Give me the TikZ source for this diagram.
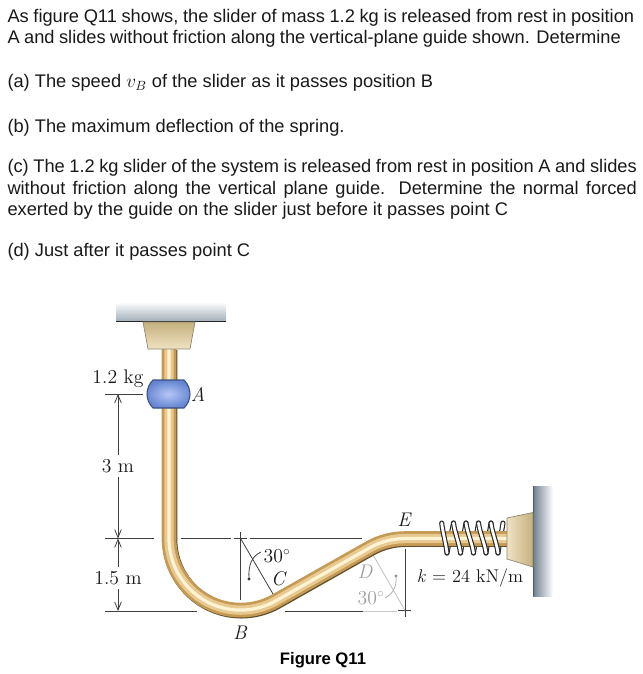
\documentclass[tikz,border=0pt]{standalone}
\usepackage{fontspec}
\newfontfamily\arial{Liberation Sans}
\usetikzlibrary{arrows.meta}
\definecolor{dimc}{HTML}{3F3F3F}
\definecolor{rodA}{HTML}{5F4E2E}
\definecolor{rodB}{HTML}{C49A55}
\definecolor{rodC}{HTML}{E8C98F}
\definecolor{rodD}{HTML}{FFF3D6}
\definecolor{steel}{HTML}{A3B0BA}
\definecolor{wallc}{HTML}{6F7F8F}
\definecolor{mountA}{HTML}{F0E3C2}
\definecolor{mountB}{HTML}{C4B07E}
\definecolor{slideA}{HTML}{B4C6F4}
\definecolor{slideB}{HTML}{6585D2}
\newcommand{\ruledtext}[2]{\hbox to #1pt{#2}}
\tikzset{
 every node/.style={inner sep=0pt,outer sep=0pt},
 body/.style={anchor=base west,text=black!90,font=\arial\fontsize{13.7}{16}\selectfont},
 lab/.style={font=\fontsize{14.8}{17}\selectfont,text=black!90},
 fade/.style={font=\fontsize{14.8}{17}\selectfont,text=black!38},
 dim/.style={draw=dimc,line width=0.6pt},
 dimarrow/.style={dim,-{Straight Barb[length=6pt,width=5pt]}},
 strandout/.style={draw=black!85,line width=3.8pt,line cap=round},
 strandin/.style={draw=white,line width=2.1pt,line cap=round},
}
\begin{document}
\begin{tikzpicture}[x=0.75pt,y=-0.75pt]
\useasboundingbox (0,0) rectangle (642,674);
% text
\node[body] (t1) at (7.5,22.5) {\ruledtext{470}{As figure Q11 shows, the slider of mass 1.2 kg is released from rest in position}};
\node[body] (t2) at (7.5,43.5) {\ruledtext{460}{A and slides without friction along the vertical-plane guide shown. Determine}};
\node[body] (t3) at (7.5,88) {(a) The speed $v_B$ of the slider as it passes position B};
\node[body] (t4) at (7.5,132) {(b) The maximum deflection of the spring.};
\node[body] (t5) at (7.5,172.5) {\ruledtext{472}{(c) The 1.2 kg slider of the system is released from rest in position A and slides}};
\node[body] (t6) at (7.5,194) {\ruledtext{472}{without friction along the vertical plane guide. Determine the normal forced}};
\node[body] (t7) at (7.5,215) {exerted by the guide on the slider just before it passes point C};
\node[body] (t8) at (7.5,256.5) {(d) Just after it passes point C};
% ceiling
\shade[top color=white,bottom color=steel] (116,302) rectangle (226,321);
\draw[line width=1pt,black!85] (116,321.5) -- (226,321.5);
% wall
\shade[left color=wallc,right color=white] (533,486) rectangle (553,596);
\draw[line width=1pt,wallc!70!black] (533.5,486) -- (533.5,596);
% spring back strands
\foreach \x/\n in {447/453.5,460.5/466,473.5/478.5,486/491,498/503}{
  \draw[strandout] (\x,553) .. controls (\x+1,545) and (\n-1,530) .. (\n,523);
  \draw[strandin] (\x,553) .. controls (\x+1,545) and (\n-1,530) .. (\n,523);
}
% dimension lines under rod
\coordinate (o1) at (240.6,538.5);
\coordinate (o2) at (405,610.5);
\coordinate (dimtop) at (118,394);
\coordinate (dimmid) at (118,538.5);
\coordinate (dimbot) at (118,611);
\draw[dim] (105,394) -- (143,394);
\draw[dim] (105,538.5) -- (154,538.5);
\draw[dim] (181,538.5) -- (231,538.5);
\draw[dim] (250,538.5) -- (362,538.5);
\draw[dim] (105,611) -- (197,611);
\draw[dim] (285,611) -- (363,611);
\draw[draw=black!22,line width=0.6pt] (363,611) -- (397,611);
\draw[dim] (240.6,532) -- (240.6,600);
\draw[dim] (234,538.5) -- (247,538.5);
\draw[dim] (o1) -- (273,594);
\draw[dim] (405,549) -- (405,617);
\draw[dim] (398,610.5) -- (411,610.5);
\draw[draw=black!25,line width=0.6pt] (o2) -- (372,553);
% rod
\def\rodpath{(169,349) -- (169,538.5) arc[start angle=180,end angle=60,radius=71.6] -- (369,548.2) arc[start angle=240,end angle=270,radius=72] -- (507,538.5)}
\draw[rodA,line width=11.25pt,line join=round,shift={(0.8,0.9)}] \rodpath;
\draw[rodB,line width=11pt,line join=round] \rodpath;
\draw[rodC,line width=7pt,line join=round] \rodpath;
\draw[rodD,line width=2.4pt,line join=round] \rodpath;
% spring front strands
\foreach \x/\n in {441.7/447,453.5/460.5,466/473.5,478.5/486,491/498}{
  \draw[strandout] (\x,523) .. controls (\x+1,532) and (\n-1,544) .. (\n,553);
  \draw[strandin] (\x,523) .. controls (\x+1,532) and (\n-1,544) .. (\n,553);
}
% mounts
\shade[top color=mountB,bottom color=mountA,draw=rodA!70,line width=0.5pt]
   (143,322) -- (195,322) -- (190,349) -- (148,349) -- cycle;
\shade[left color=mountA,right color=mountB,draw=rodA!70,line width=0.5pt]
   (507,518) -- (533,512.5) -- (533,567) -- (507,559) -- cycle;
% slider
\shade[inner color=slideA,outer color=slideB,draw=slideB!60!black,line width=0.8pt]
   (153,380) -- (184,380) .. controls (192,388) and (192,400) .. (184,408) -- (153,408) .. controls (145,400) and (145,388) .. (153,380) -- cycle;
% dimension arrows
\node[lab] (l3m) at (118,466) {3 m};
\node[lab] (l15m) at (118,578) {1.5 m};
\draw[dimarrow] (l3m.north) ++(0,-4) -- (dimtop);
\draw[dimarrow] (l3m.south) ++(0,4) -- (dimmid);
\draw[dimarrow] (l15m.north) ++(0,-4) -- (dimmid);
\draw[dimarrow] (l15m.south) ++(0,4) -- (dimbot);
% labels
\node[lab] (lkg) at (118,379) {1.2 kg};
\node[lab] (la) at (198,394) {\itshape A};
\node[lab] (lb) at (240,633) {\itshape B};
\node[lab] (lc) at (278,579) {\itshape C};
\node[lab] (le) at (404,520) {\itshape E};
\node[fade] (ld) at (365,572) {\itshape D};
\node[lab] (l30) at (277,556) {30$^\circ$};
\node[fade] (l30b) at (371,598) {30$^\circ$};
\node[lab,font=\fontsize{13.8}{16}\selectfont] (lk) at (470,578) {\itshape k\/\upshape{} = 24 kN/m};
\coordinate (dot1) at (249,579);
\coordinate (dot2) at (396,576);
\fill[black!80] (dot1) circle (1.6);
\fill[black!45] (dot2) circle (1.6);
\draw[dim] (dot1) .. controls (248,565) and (252,556) .. (261,552);
\draw[draw=black!30,line width=0.6pt] (dot2) .. controls (397,588) and (392,594) .. (385,598);
\node[anchor=base,font=\arial\bfseries\fontsize{12.5}{14}\selectfont] (fig) at (323,664) {Figure Q11};
\end{tikzpicture}
\end{document}
